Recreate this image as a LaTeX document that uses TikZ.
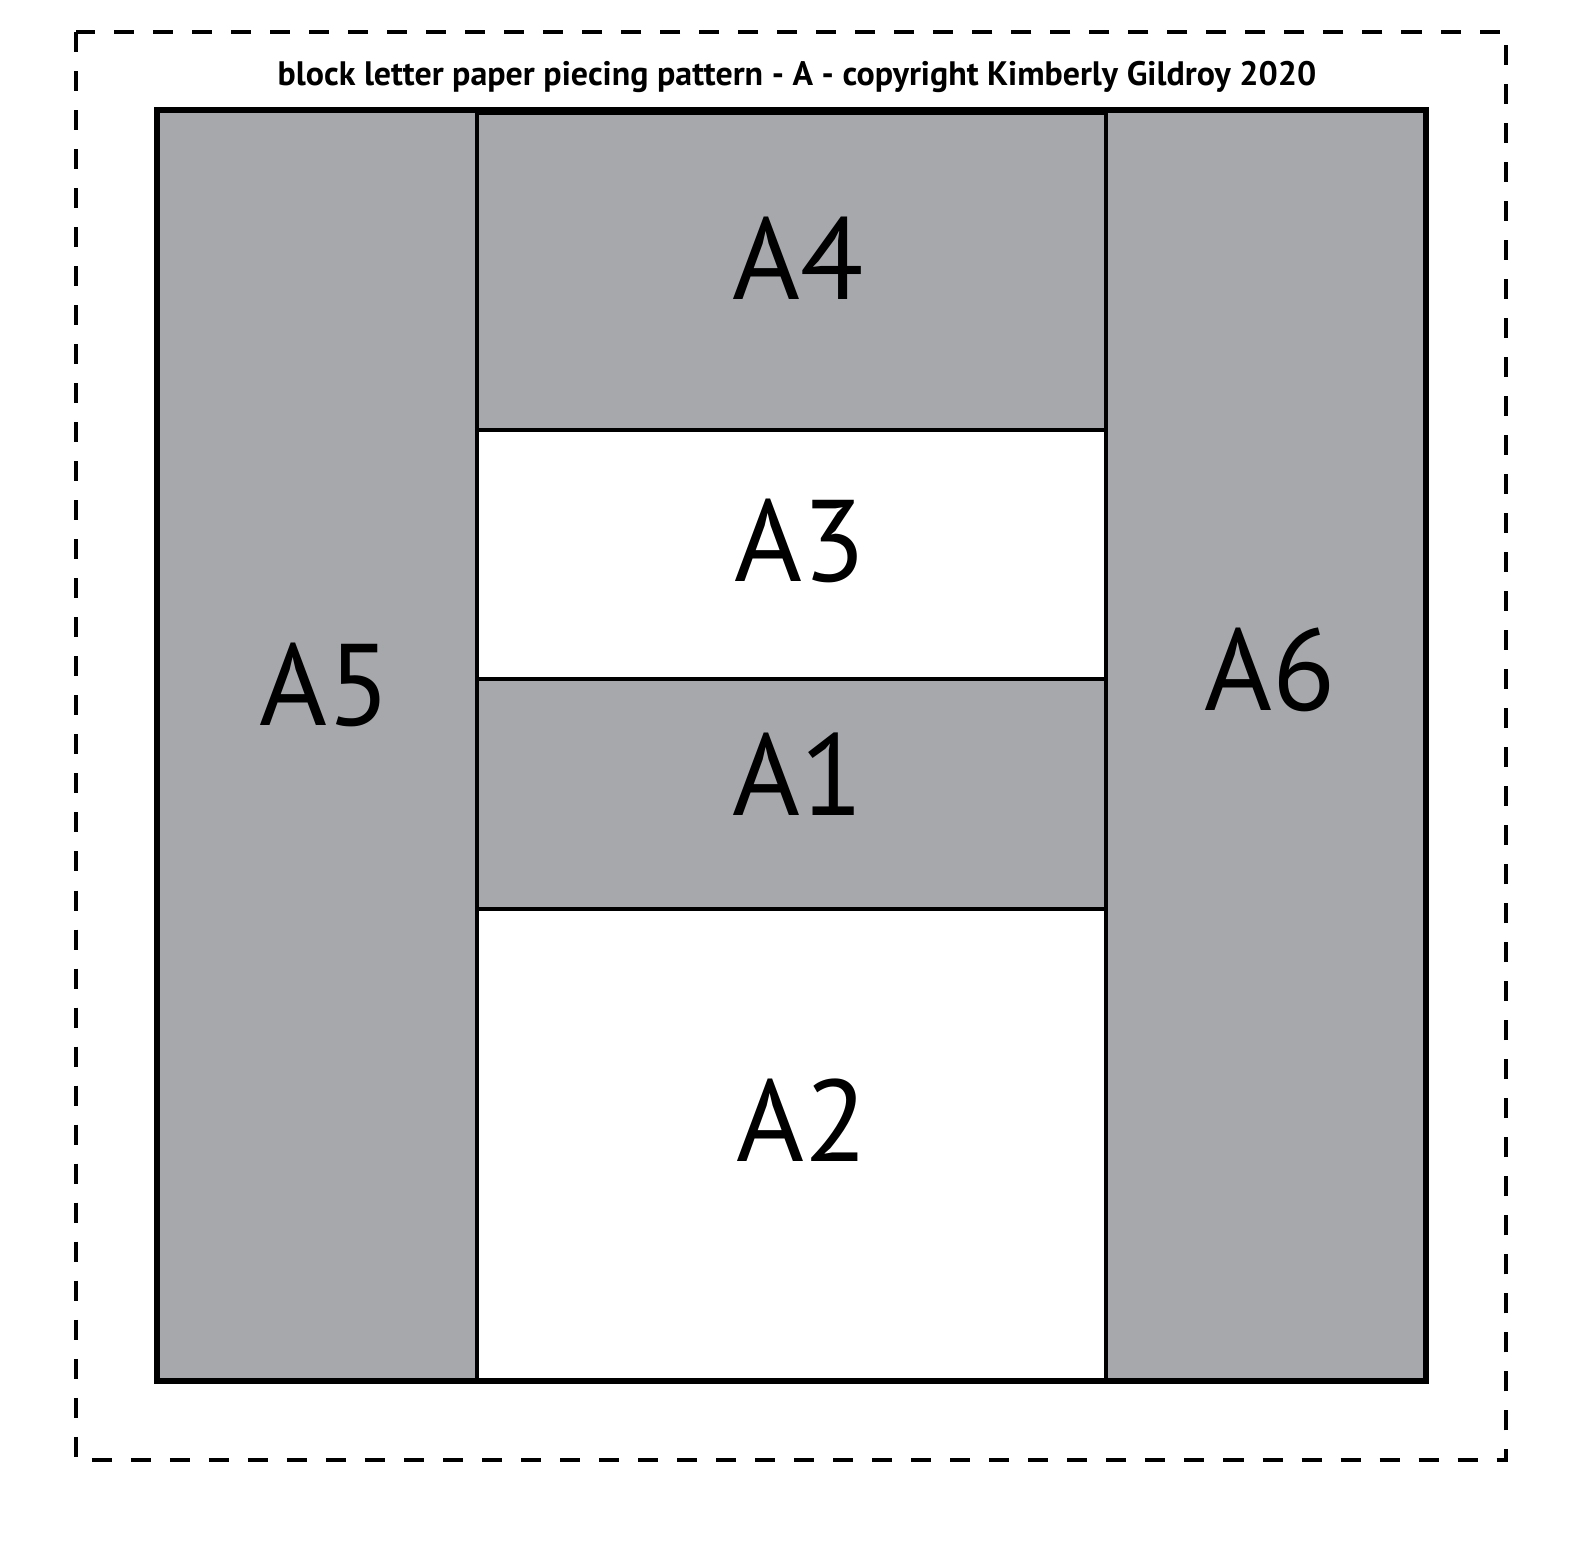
\documentclass[tikz,border=0pt]{standalone}
\usepackage{fontspec}
\setmainfont{PT Sans}
\definecolor{patchgrey}{HTML}{A7A8AC}
\tikzset{
  patch/.style={draw=black, line width=1pt},
  label/.style={font=\fontsize{33}{33}\selectfont, inner sep=0pt},
  cutline/.style={line width=1.2pt, dash pattern=on 0.2cm off 0.19cm}
}
\begin{document}
\begin{tikzpicture}[x=0.01cm, y=-0.01cm]
    \useasboundingbox (0,0) rectangle (1588,1542);

    \draw[cutline] (76,32) rectangle (1506,1460);
    \node[font=\bfseries\fontsize{9.6}{10}\selectfont, inner sep=0pt, anchor=base] (title) at (797,85) {\resizebox{10.38cm}{!}{block letter paper piecing pattern - A - copyright Kimberly Gildroy 2020}};

    % patches
    \draw[patch, fill=patchgrey] (157,110) rectangle (477,1381);
    \draw[patch, fill=patchgrey] (477,113) rectangle (1106,430);
    \draw[patch, fill=white] (477,430) rectangle (1106,679);
    \draw[patch, fill=patchgrey] (477,679) rectangle (1106,909);
    \draw[patch, fill=white] (477,909) rectangle (1106,1381);
    \draw[patch, fill=patchgrey] (1106,110) rectangle (1426,1381);
    \draw[line width=1.8pt] (157,110) rectangle (1426,1381);

    \node[label] (a5) at (325,685) {A5};
    \node[label] (a4) at (798,258) {A4};
    \node[label] (a3) at (800,541) {A3};
    \node[label] (a1) at (798,774) {A1};
    \node[label] (a2) at (802,1120) {A2};
    \node[label] (a6) at (1270,670) {A6};
\end{tikzpicture}
\end{document}
